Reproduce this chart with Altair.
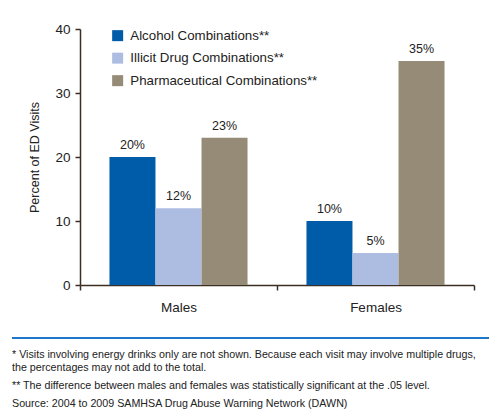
import altair as alt
import pandas as pd

# Data
groups = ['Males', 'Females']
series = ['Alcohol Combinations**', 'Illicit Drug Combinations**', 'Pharmaceutical Combinations**']
males = [20, 12, 23]
females = [10, 5, 35]
colors = ['#005ca9', '#adbde2', '#958b76']

notes = [
    '* Visits involving energy drinks only are not shown. Because each visit may involve multiple drugs,',
    '   the percentages may not add to the total.',
    '** The difference between males and females was statistically significant at the .05 level.',
    'Source: 2004 to 2009 SAMHSA Drug Abuse Warning Network (DAWN)',
]
note_y = [326, 339, 357, 375]

rows = []
for g, vals in zip(groups, [males, females]):
    for s, v in zip(series, vals):
        rows.append({'group': g, 'series': s, 'value': v, 'label': f'{v}%'})
df = pd.DataFrame(rows)

FONT = 'Liberation Sans'
AXIS_COLOR = '#3b2f24'

x = alt.X('group:N', sort=groups, title=None,
          scale=alt.Scale(paddingInner=0, paddingOuter=0),
          axis=alt.Axis(labelAngle=0, tickBand='extent', labelFontSize=13.5,
                        labelPadding=10, tickSize=5, labelColor='#222222'))
xo = alt.XOffset('series:N', sort=series,
                 scale=alt.Scale(paddingInner=0, paddingOuter=0.64))

bars = alt.Chart(df).mark_bar(size=46).encode(
    x=x,
    xOffset=xo,
    y=alt.Y('value:Q', title='Percent of ED Visits',
            scale=alt.Scale(domain=[0, 40], nice=False),
            axis=alt.Axis(values=[0, 10, 20, 30, 40], grid=False, tickSize=5,
                          labelFontSize=13.5, labelPadding=5, titleFontSize=12.5,
                          titleFontWeight='normal', titlePadding=13,
                          labelColor='#222222', titleColor='#222222')),
    color=alt.Color('series:N', sort=series,
                    scale=alt.Scale(domain=series, range=colors),
                    legend=alt.Legend(title=None, orient='none', legendX=31, legendY=0,
                                      symbolType='square', symbolSize=121,
                                      symbolStrokeWidth=0, labelFontSize=13.3,
                                      labelColor='#222222', rowPadding=8.5,
                                      labelOffset=6, labelLimit=300)),
)

text = alt.Chart(df).mark_text(dy=-12, fontSize=12.5, color='#222222', font=FONT).encode(
    x=alt.X('group:N', sort=groups),
    xOffset=alt.XOffset('series:N', sort=series),
    y='value:Q',
    text='label:N',
)

rule = alt.Chart(df).mark_rule(color='#1f78c8', strokeWidth=1.5).encode(
    x=alt.value(-68), x2=alt.value(409), y=alt.value(309)
)

notes_df = pd.DataFrame({'note': notes, 'y': note_y})
foot = alt.Chart(notes_df).mark_text(align='left', baseline='middle', fontSize=10.7,
                                      color='#222222', font=FONT).encode(
    x=alt.value(-68),
    y=alt.Y('y:Q', scale=None),
    text='note:N',
)

chart = alt.layer(bars, text, rule, foot).properties(
    width=394, height=256,
    autosize=alt.AutoSizeParams(type='none'),
    padding={'left': 72, 'top': 21, 'right': 18, 'bottom': 126},
).configure(
    font=FONT,
).configure_view(
    stroke=None
).configure_axis(
    domainColor=AXIS_COLOR, tickColor=AXIS_COLOR, domainWidth=1.5, tickWidth=1.5,
    labelFont=FONT, titleFont=FONT,
).configure_legend(labelFont=FONT)

chart.save('out.html', embed_options={'renderer': 'svg', 'actions': False})
